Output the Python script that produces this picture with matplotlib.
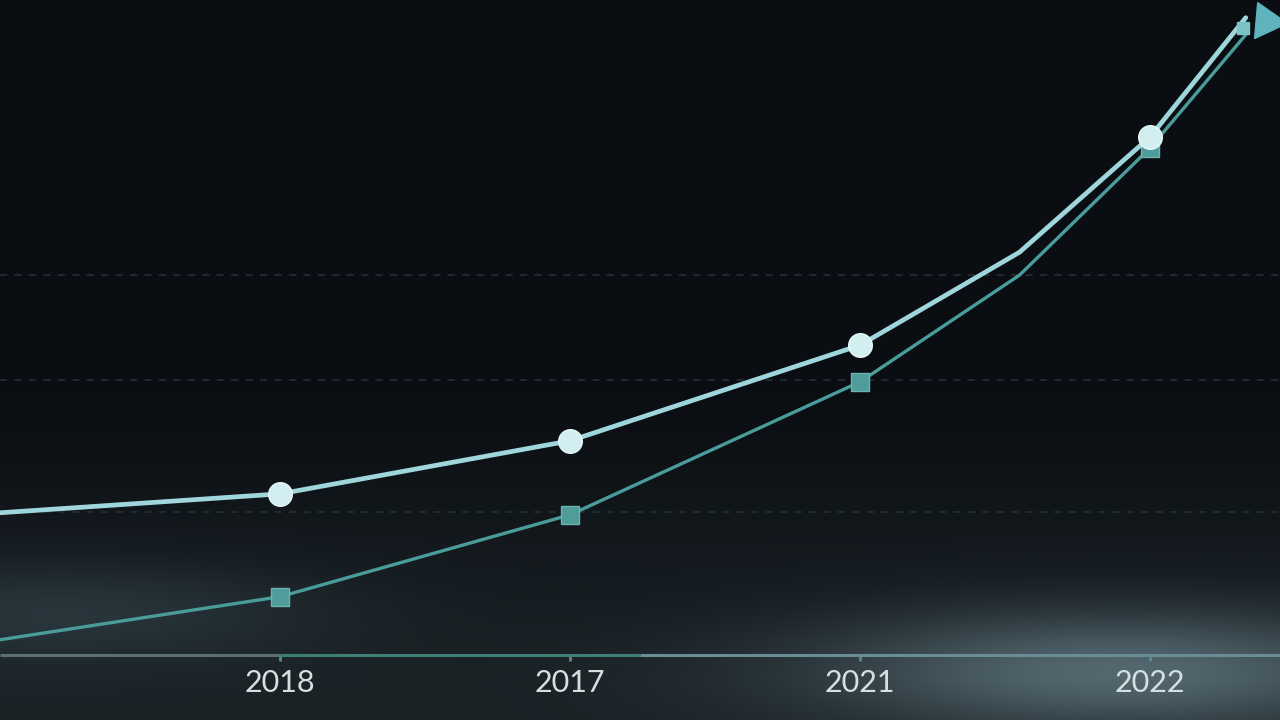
import numpy as np
import matplotlib.pyplot as plt

# tick labels as shown (order kept from the picture)
years = ['2018', '2017', '2021', '2022']
tick_pos = [0, 1, 2, 3]

# x positions of line vertices (labels at 0..3, extra knots before/after)
x_pts = [-0.97, 0, 1, 2, 2.55, 3, 3.33]
light_vals = [21.7, 24.6, 32.7, 47.3, 61.5, 79.1, 97.3]
teal_vals = [2.3, 8.9, 21.4, 41.7, 58.0, 77.4, 94.7]

# marker positions (only at labelled years)
light_mark = [24.6, 32.7, 47.3, 79.1]
teal_mark = [8.9, 21.4, 41.7, 77.4]

grid_levels = [21.8, 42.0, 58.0]

W, H = 1280, 720
fig = plt.figure(figsize=(12.8, 7.2), dpi=100)

# background gradient
bg = fig.add_axes([0, 0, 1, 1], zorder=0)
yy, xx = np.mgrid[0:H, 0:W]
base_top = np.array([10, 13, 18]) / 255
base_bot = np.array([26, 34, 38]) / 255
t = np.clip((yy - 380) / 300, 0, 1)[..., None]
img = base_top * (1 - t) + base_bot * t
glow = np.exp(-(((xx - 1120) / 300) ** 2) - (((yy - 670) / 60) ** 2))[..., None]
glow2 = np.exp(-(((xx - 60) / 260) ** 2) - (((yy - 610) / 50) ** 2))[..., None]
img = img + glow * np.array([58, 70, 74]) / 255 + glow2 * np.array([18, 24, 26]) / 255
img = np.clip(img, 0, 1)
bg.imshow(img, extent=[0, W, H, 0], aspect='auto')
bg.set_xlim(0, W)
bg.set_ylim(H, 0)
bg.axis('off')

ax = fig.add_axes([0, 65 / 720, 1, 655 / 720], zorder=1)
ax.patch.set_alpha(0)
ax.set_xlim(-0.9655, 3.448)
ax.set_ylim(0, 100)

for g in grid_levels:
    ax.axhline(g, color='#212d34', lw=1.3, ls=(0, (4, 4)), zorder=1)

# axis line in segments (grey, teal, blue-grey)
ax.hlines(0, -0.9655, 0, color='#5b6e74', lw=2.2, clip_on=False, zorder=2)
ax.hlines(0, 0, 1.24, color='#3d7f77', lw=2.2, clip_on=False, zorder=2)
ax.hlines(0, 1.24, 3.448, color='#6a8c94', lw=2.2, clip_on=False, zorder=2)

ax.plot(x_pts, teal_vals, color='#4a9c9a', lw=2.4, zorder=3, solid_capstyle='round')
ax.plot(tick_pos, teal_mark, ls='none', marker='s', ms=13, color='#4f9c9a',
        mec='#6cb3b0', mew=1, zorder=4)

ax.plot(x_pts, light_vals, color='#9fd6dc', lw=3.4, zorder=5, solid_capstyle='round')
ax.plot(tick_pos, light_mark, ls='none', marker='o', ms=17, color='#d3eef0',
        mec='#e6f7f8', mew=1, zorder=6)

# arrow head at the end of the light line
ax.plot([x_pts[-1] + 0.07], [light_vals[-1] - 0.5], marker=(3, 0, -95), ms=30,
        color='#5fb3bd', ls='none', zorder=7, clip_on=False)
ax.plot([x_pts[-1] - 0.01], [teal_vals[-1] + 1.0], marker='s', ms=8,
        color='#7cc3c6', ls='none', zorder=6)

for s in ['top', 'right', 'left', 'bottom']:
    ax.spines[s].set_visible(False)
ax.set_yticks([])
ax.set_xticks(tick_pos)
ax.set_xticklabels(years, fontsize=22, color='#d6dfe0', family='Lato')
ax.tick_params(axis='x', length=4, width=2, color='#5a8a8a', pad=6)

fig.savefig('out.png', dpi=100, facecolor='#0b0e13')
